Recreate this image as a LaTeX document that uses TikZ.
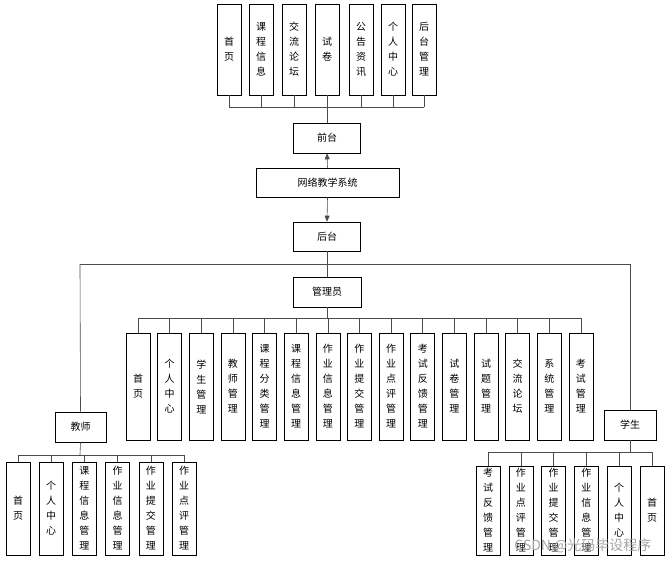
\documentclass[tikz,border=0pt]{standalone}
\usepackage{fontspec}
\setmainfont{Noto Sans CJK SC}
\usetikzlibrary{arrows.meta}
\begin{document}
\begin{tikzpicture}[x=1pt,y=-1pt,
 every node/.style={font=\fontsize{10}{15}\selectfont},
 vb/.style={draw,fill=white,inner sep=0pt,minimum width=24pt,align=center,drop shadow/.style={}},
 hb/.style={draw,fill=white,inner sep=0pt,align=center},
 ln/.style={line width=0.6pt,gray!60!black},
 bx/.style={line width=0.6pt}]
\useasboundingbox (0,0) rectangle (670,565);
% top
\foreach \x/\t [count=\i] in {229/首\\页,261/课\\程\\信\\息,294/交\\流\\论\\坛,327/试\\卷,361/公\\告\\资\\讯,393/个\\人\\中\\心,424/后\\台\\管\\理}{
  \node[vb,bx,minimum height=91pt] (t\i) at (\x,49.5) {\t};
  \draw[ln] (t\i.south) -- (\x,107);
}
\draw[ln] (229,107) -- (424,107);
\node[hb,bx,minimum width=67pt,minimum height=30pt] (qt) at (327,138) {前台};
\draw[ln] (327,107) -- (qt.north);
\node[hb,bx,minimum width=143pt,minimum height=29pt] (sys) at (327.5,182.5) {网络教学系统};
\node[hb,bx,minimum width=67pt,minimum height=29pt] (ht) at (327,236.5) {后台};
\draw[ln,-{Triangle[length=6pt,width=5pt]}] (sys.north) -- (qt.south);
\draw[ln,-{Triangle[length=6pt,width=5pt]}] (sys.south) -- (ht.north);
\draw[ln] (ht.south) -- (327,264);
\draw[ln] (80,264) -- (630,264);
\node[hb,bx,minimum width=68pt,minimum height=30pt] (gly) at (327,292) {管理员};
\draw[ln] (327,264) -- (gly.north);
\draw[ln] (gly.south) -- (327,318);
\draw[ln] (138,318) -- (581,318);
\foreach \t [count=\i] in {首\\页,个\\人\\中\\心,学\\生\\管\\理,教\\师\\管\\理,课\\程\\分\\类\\管\\理,课\\程\\信\\息\\管\\理,作\\业\\信\\息\\管\\理,作\\业\\提\\交\\管\\理,作\\业\\点\\评\\管\\理,考\\试\\反\\馈\\管\\理,试\\卷\\管\\理,试\\题\\管\\理,交\\流\\论\\坛,系\\统\\管\\理,考\\试\\管\\理}{
  \pgfmathsetmacro{\xx}{138+(\i-1)*31.64}
  \node[vb,bx,minimum height=107pt] (a\i) at (\xx,386.5) {\t};
  \draw[ln] (\xx,318) -- (a\i.north);
}
% teacher
\node[hb,bx,minimum width=51pt,minimum height=30pt] (js) at (80.5,427) {教师};
\draw[ln] (80,264) -- (js.north);
\draw[ln] (js.south) -- (80,455);
\draw[ln] (18,455) -- (184,455);
\foreach \t [count=\i] in {首\\页,个\\人\\中\\心,课\\程\\信\\息\\管\\理,作\\业\\信\\息\\管\\理,作\\业\\提\\交\\管\\理,作\\业\\点\\评\\管\\理}{
  \pgfmathsetmacro{\xx}{18+(\i-1)*33.2}
  \node[vb,bx,minimum height=93pt] (b\i) at (\xx,508.5) {\t};
  \draw[ln] (\xx,455) -- (b\i.north);
}
% student
\node[hb,bx,minimum width=52pt,minimum height=30pt] (xs) at (630,425) {学生};
\draw[ln] (630,264) -- (xs.north);
\draw[ln] (xs.south) -- (630,452);
\draw[ln] (488,452) -- (652,452);
\foreach \t [count=\i] in {考\\试\\反\\馈\\管\\理,作\\业\\点\\评\\管\\理,作\\业\\提\\交\\管\\理,作\\业\\信\\息\\管\\理,个\\人\\中\\心,首\\页}{
  \pgfmathsetmacro{\xx}{488+(\i-1)*32.8}
  \node[vb,bx,minimum height=89pt] (c\i) at (\xx,510.5) {\t};
  \draw[ln] (\xx,452) -- (c\i.north);
}
\node[text=gray!70,font=\fontsize{14}{16}\selectfont,anchor=east] (wm) at (655,546) {CSDN @光码毕设程序};
\end{tikzpicture}
\end{document}
